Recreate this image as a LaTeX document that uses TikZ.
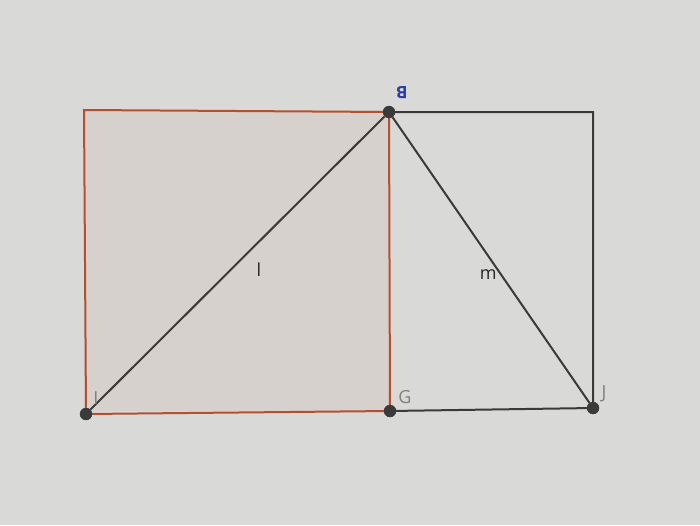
\documentclass[tikz,border=0pt]{standalone}
\usepackage{fontspec}
\setmainfont{Open Sans}
\usepackage{tikz}
\usetikzlibrary{positioning}

\definecolor{screen}{HTML}{D9D9D7}
\definecolor{rustline}{HTML}{B4502F}
\definecolor{rustfill}{HTML}{D6D1CC}
\definecolor{greyline}{HTML}{3A3A3A}
\definecolor{labelgrey}{HTML}{808080}
\definecolor{bluelabel}{HTML}{2B3FA8}

\begin{document}
\begin{tikzpicture}[
    x=1pt, y=-1pt,
    roundnode/.style={circle, fill=greyline, draw=black!80, minimum size=12pt, inner sep=0pt},
    redline/.style={-, rustline, line width=2pt},
    blackline/.style={-, greyline, line width=2pt},
    ptlabel/.style={font=\fontsize{18}{18}\selectfont, labelgrey},
    seglabel/.style={font=\fontsize{18}{18}\selectfont, black!85}
    ]
    \fill[screen] (0,0) rectangle (700,525);
    \useasboundingbox (0,0) rectangle (700,525);

    %Corners
    \coordinate (TL) at (84,110);
    \coordinate (TR) at (593,112);
    \coordinate (Ip) at (86,414);
    \coordinate (Bp) at (389,112);
    \coordinate (Gp) at (390,411);
    \coordinate (Jp) at (593,408);

    %Rectangles
    \fill[rustfill] (TL) rectangle (Gp);
    \draw[redline] (Gp) -- (Ip) -- (TL) -- (Bp) -- (Gp);
    \draw[blackline] (Bp) -- (TR) -- (Jp) -- (Gp);

    %Nodes
    \node[roundnode] (I) at (Ip) {};
    \node[roundnode] (B) at (Bp) {};
    \node[roundnode] (G) at (Gp) {};
    \node[roundnode] (J) at (Jp) {};

    %Lines
    \draw[blackline] (I) -- node[seglabel, pos=0.55, below right=10pt and 0pt] (l) {l} (B);
    \draw[blackline] (B) -- node[seglabel, pos=0.55, left=0pt] (m) {m} (J);

    %Labels
    \node[ptlabel] (Ilab) at (96,398) {I};
    \node[font=\fontsize{17}{17}\selectfont\bfseries, bluelabel, rotate=180] (Blab) at (402,93) {B};
    \node[ptlabel] (Glab) at (405,397) {G};
    \node[ptlabel] (Jlab) at (604,394) {J};

\end{tikzpicture}
\end{document}
